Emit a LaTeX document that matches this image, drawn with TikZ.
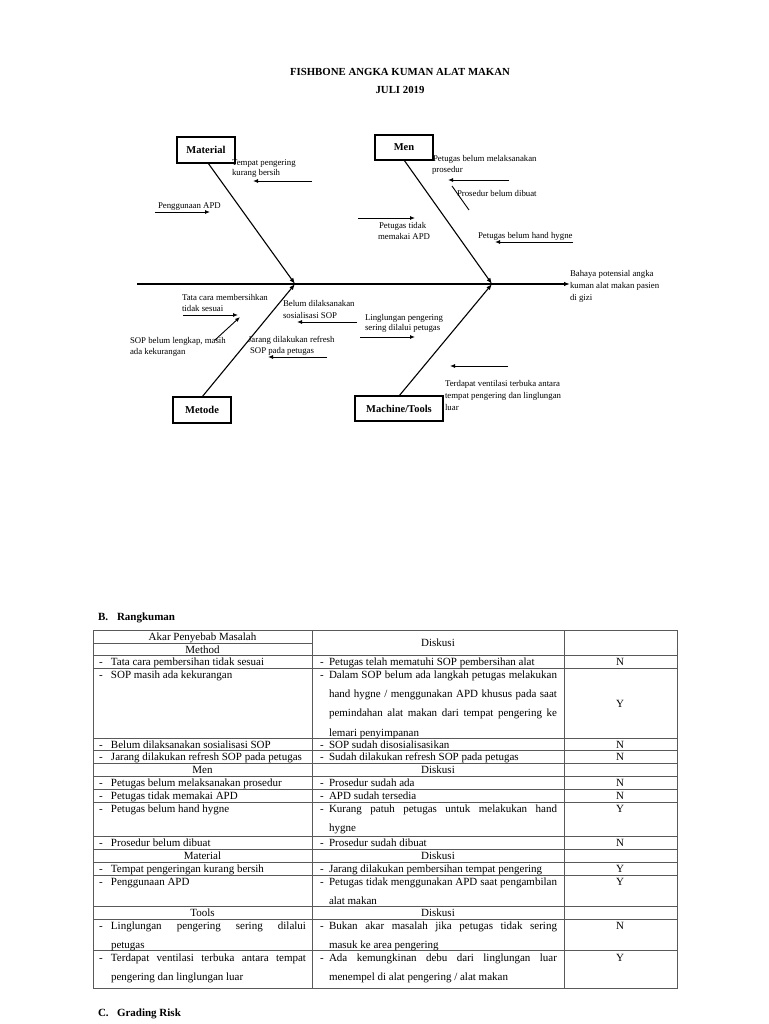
\documentclass[tikz,border=0pt]{standalone}
\usepackage{fontspec}
\setmainfont{Liberation Serif}
\usetikzlibrary{arrows.meta}
\newcommand{\jb}[2]{\makebox[#1][s]{#2}}
\newcommand{\dsh}[1]{\makebox[#1][l]{-}}
\begin{document}
\begin{tikzpicture}[x=1pt,y=-1pt,
 every node/.style={inner sep=0pt, outer sep=0pt},
 lbl/.style={font=\fontsize{8.8}{10.5}\selectfont, anchor=base west},
 catbox/.style={draw, line width=1.1pt, font=\fontsize{10.5}{12}\selectfont\bfseries, anchor=center},
 bone/.style={line width=1.1pt, -{Latex[length=6pt,width=4.5pt]}},
 cause/.style={line width=0.9pt, -{Latex[length=5pt,width=4pt]}},
 plainl/.style={line width=0.9pt},
 tx/.style={font=\fontsize{11}{13}\selectfont, anchor=base west},
 txc/.style={font=\fontsize{11}{13}\selectfont, anchor=base},
 hd/.style={font=\fontsize{11}{13}\selectfont\bfseries, anchor=base west},
 ttl/.style={font=\fontsize{10.8}{13}\selectfont\bfseries, anchor=base},
 grid/.style={draw=black!65, line width=0.8pt}
]
\useasboundingbox[fill=white] (0,0) rectangle (768,1024);

% ---------- title ----------
\node[ttl] (title) at (400,76) {FISHBONE ANGKA KUMAN ALAT MAKAN};
\node[ttl] (date) at (400,94) {JULI 2019};

% ---------- category boxes ----------
\node[catbox, minimum width=58pt, minimum height=26pt] (mat) at (206,150) {Material};
\node[catbox, minimum width=58pt, minimum height=25pt] (men) at (404,147.5) {Men};
\node[catbox, minimum width=58pt, minimum height=26pt] (met) at (202,410) {Metode};
\node[catbox, minimum width=88pt, minimum height=25pt] (mac) at (399,408.5) {Machine/Tools};

% ---------- spine and bones ----------
\coordinate (spL) at (137,284);
\coordinate (spR) at (570,284);
\coordinate (jL) at (295,284);
\coordinate (jR) at (492,284);
\draw[line width=1.4pt, -{Latex[length=6pt,width=4.5pt]}] (spL) -- (spR);
\draw[bone] ([xshift=2pt]mat.south) -- (jL);
\draw[bone] (men.south) -- (jR);
\draw[bone] (met.north) -- (jL);
\draw[bone] (mac.north) -- (jR);

% ---------- cause arrows ----------
\coordinate (c1s) at (312,181); \coordinate (c1e) at (253,181);
\coordinate (c2s) at (155,212); \coordinate (c2e) at (210,212);
\coordinate (c3s) at (509,180); \coordinate (c3e) at (448,180);
\coordinate (c4s) at (469,210); \coordinate (c4e) at (452,186);
\coordinate (c5s) at (358,218); \coordinate (c5e) at (415,218);
\coordinate (c6s) at (573,242); \coordinate (c6e) at (495,242);
\coordinate (c7s) at (183,315); \coordinate (c7e) at (238,315);
\coordinate (c8s) at (215,340); \coordinate (c8e) at (240,317);
\coordinate (c9s) at (357,322); \coordinate (c9e) at (297,322);
\coordinate (c10s) at (327,357); \coordinate (c10e) at (268,357);
\coordinate (c11s) at (360,337); \coordinate (c11e) at (415,337);
\coordinate (c12s) at (508,366); \coordinate (c12e) at (450,366);
\draw[cause] (c1s) -- (c1e);
\draw[cause] (c2s) -- (c2e);
\draw[cause] (c3s) -- (c3e);
\draw[plainl] (c4s) -- (c4e);
\draw[cause] (c5s) -- (c5e);
\draw[cause] (c6s) -- (c6e);
\draw[cause] (c7s) -- (c7e);
\draw[cause] (c8s) -- (c8e);
\draw[cause] (c9s) -- (c9e);
\draw[cause] (c10s) -- (c10e);
\draw[cause] (c11s) -- (c11e);
\draw[cause] (c12s) -- (c12e);

% ---------- cause labels ----------
\node[lbl] (l1a) at (232,166) {Tempat pengering};
\node[lbl] (l1b) at (232,176) {kurang bersih};
\node[lbl] (l2) at (158,209) {Penggunaan APD};
\node[lbl] (l3a) at (433,162) {Petugas belum melaksanakan};
\node[lbl] (l3b) at (432,173) {prosedur};
\node[lbl] (l4) at (457,197) {Prosedur belum dibuat};
\node[lbl] (l5a) at (379,229) {Petugas tidak};
\node[lbl] (l5b) at (378,240) {memakai APD};
\node[lbl] (l6) at (478,238) {Petugas belum hand hygne};
\node[lbl] (l7a) at (182,300) {Tata cara membersihkan};
\node[lbl] (l7b) at (182,311) {tidak sesuai};
\node[lbl] (l8a) at (130,343) {SOP belum lengkap, masih};
\node[lbl] (l8b) at (130,354) {ada kekurangan};
\node[lbl] (l9a) at (283,306) {Belum dilaksanakan};
\node[lbl] (l9b) at (283,318) {sosialisasi SOP};
\node[lbl] (l10a) at (248,342) {Jarang dilakukan refresh};
\node[lbl] (l10b) at (250,353) {SOP pada petugas};
\node[lbl] (l11a) at (365,320) {Linglungan pengering};
\node[lbl] (l11b) at (365,330) {sering dilalui petugas};
\node[lbl] (l12a) at (445,386) {Terdapat ventilasi terbuka antara};
\node[lbl] (l12b) at (445,398) {tempat pengering dan linglungan};
\node[lbl] (l12c) at (445,410) {luar};
\node[lbl] (ef1) at (570,276) {Bahaya potensial angka};
\node[lbl] (ef2) at (570,288) {kuman alat makan pasien};
\node[lbl] (ef3) at (570,300) {di gizi};

% ---------- section B ----------
\node[hd] (bA) at (98,620) {B.};
\node[hd] (bB) at (117,620) {Rangkuman};

% table grid
\draw[grid] (93,630) rectangle (677,988);
\draw[grid] (312,630) -- (312,988);
\draw[grid] (564,630) -- (564,988);
\draw[grid] (93,643) -- (312,643);
\foreach \yy in {655,668,738,750,763,776,789,802,836,849,862,875,906,919,950}
  \draw[grid] (93,\yy) -- (677,\yy);

% header
\node[txc] (h1) at (202.5,640) {Akar Penyebab Masalah};
\node[txc] (h2) at (202.5,653) {Method};
\node[txc] (h3) at (438,646) {Diskusi};

% Method rows
\node[tx] (r1a) at (99,665) {\dsh{12pt}Tata cara pembersihan tidak sesuai};
\node[tx] (r1b) at (320,665) {\dsh{9pt}Petugas telah mematuhi SOP pembersihan alat};
\node[txc] (r1c) at (620,665) {N};

\node[tx] (r2a) at (99,678) {\dsh{12pt}SOP masih ada kekurangan};
\node[tx] (r2b) at (320,678) {\dsh{9pt}\jb{228pt}{Dalam SOP belum ada langkah petugas melakukan}};
\node[tx] (r2b2) at (329,697.3) {\jb{228pt}{hand hygne / menggunakan APD khusus pada saat}};
\node[tx] (r2b3) at (329,716.6) {\jb{228pt}{pemindahan alat makan dari tempat pengering ke}};
\node[tx] (r2b4) at (329,736) {lemari penyimpanan};
\node[txc] (r2c) at (620,707) {Y};

\node[tx] (r3a) at (99,748) {\dsh{12pt}Belum dilaksanakan sosialisasi SOP};
\node[tx] (r3b) at (320,748) {\dsh{9pt}SOP sudah disosialisasikan};
\node[txc] (r3c) at (620,748) {N};

\node[tx] (r4a) at (99,760) {\dsh{12pt}Jarang dilakukan refresh SOP pada petugas};
\node[tx] (r4b) at (320,760) {\dsh{9pt}Sudah dilakukan refresh SOP pada petugas};
\node[txc] (r4c) at (620,760) {N};

% Men
\node[txc] (r5a) at (202.5,773) {Men};
\node[txc] (r5b) at (438,773) {Diskusi};

\node[tx] (r6a) at (99,786) {\dsh{12pt}Petugas belum melaksanakan prosedur};
\node[tx] (r6b) at (320,786) {\dsh{9pt}Prosedur sudah ada};
\node[txc] (r6c) at (620,786) {N};

\node[tx] (r7a) at (99,799) {\dsh{12pt}Petugas tidak memakai APD};
\node[tx] (r7b) at (320,799) {\dsh{9pt}APD sudah tersedia};
\node[txc] (r7c) at (620,799) {N};

\node[tx] (r8a) at (99,812) {\dsh{12pt}Petugas belum hand hygne};
\node[tx] (r8b) at (320,812) {\dsh{9pt}\jb{228pt}{Kurang patuh petugas untuk melakukan hand}};
\node[tx] (r8b2) at (329,831) {hygne};
\node[txc] (r8c) at (620,812) {Y};

\node[tx] (r9a) at (99,846) {\dsh{12pt}Prosedur belum dibuat};
\node[tx] (r9b) at (320,846) {\dsh{9pt}Prosedur sudah dibuat};
\node[txc] (r9c) at (620,846) {N};

% Material
\node[txc] (r10a) at (202.5,859) {Material};
\node[txc] (r10b) at (438,859) {Diskusi};

\node[tx] (r11a) at (99,872) {\dsh{12pt}Tempat pengeringan kurang bersih};
\node[tx] (r11b) at (320,872) {\dsh{9pt}Jarang dilakukan pembersihan tempat pengering};
\node[txc] (r11c) at (620,872) {Y};

\node[tx] (r12a) at (99,885) {\dsh{12pt}Penggunaan APD};
\node[tx] (r12b) at (320,885) {\dsh{9pt}\jb{228pt}{Petugas tidak menggunakan APD saat pengambilan}};
\node[tx] (r12b2) at (329,904) {alat makan};
\node[txc] (r12c) at (620,885) {Y};

% Tools
\node[txc] (r13a) at (202.5,916) {Tools};
\node[txc] (r13b) at (438,916) {Diskusi};

\node[tx] (r14a) at (99,929) {\dsh{12pt}\jb{195pt}{Linglungan pengering sering dilalui}};
\node[tx] (r14a2) at (111,948) {petugas};
\node[tx] (r14b) at (320,929) {\dsh{9pt}\jb{228pt}{Bukan akar masalah jika petugas tidak sering}};
\node[tx] (r14b2) at (329,948) {masuk ke area pengering};
\node[txc] (r14c) at (620,929) {N};

\node[tx] (r15a) at (99,961) {\dsh{12pt}\jb{195pt}{Terdapat ventilasi terbuka antara tempat}};
\node[tx] (r15a2) at (111,980) {pengering dan linglungan luar};
\node[tx] (r15b) at (320,961) {\dsh{9pt}\jb{228pt}{Ada kemungkinan debu dari linglungan luar}};
\node[tx] (r15b2) at (329,980) {menempel di alat pengering / alat makan};
\node[txc] (r15c) at (620,961) {Y};

% ---------- section C ----------
\node[hd] (cA) at (98,1016) {C.};
\node[hd] (cB) at (117,1016) {Grading Risk};
\end{tikzpicture}
\end{document}
